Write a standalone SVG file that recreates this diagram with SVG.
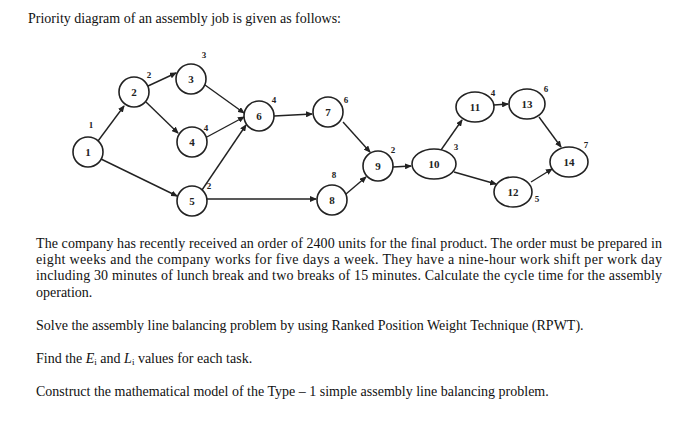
<svg xmlns="http://www.w3.org/2000/svg" width="700" height="439" viewBox="0 0 700 439">
<style>
.n{fill:#fff;stroke:#222;stroke-width:1.6}
.l{font-family:"Liberation Serif",serif;font-size:11px;font-weight:bold;fill:#222;text-anchor:middle}
.w{font-family:"Liberation Serif",serif;font-size:9px;font-weight:bold;fill:#222;text-anchor:middle}
.t{font-family:"Liberation Serif",serif;font-size:14px;fill:#111}
.c{stroke:#222;stroke-width:1.4;fill:none;marker-end:url(#a)}
</style>
<defs><marker id="a" markerWidth="7" markerHeight="6" refX="6" refY="3" orient="auto" markerUnits="userSpaceOnUse"><path d="M0,0L7,3L0,6z" fill="#222"/></marker></defs>
<rect width="700" height="439" fill="#fff"/>
<text class="t" x="28" y="23">Priority diagram of an assembly job is given as follows:</text>
<g id="connectors">
<line class="c" x1="98" y1="141" x2="124" y2="106"/>
<line class="c" x1="101" y1="159" x2="177" y2="196"/>
<line class="c" x1="148" y1="86" x2="176" y2="73"/>
<line class="c" x1="146" y1="102" x2="178" y2="133"/>
<line class="c" x1="205" y1="85" x2="244" y2="113"/>
<line class="c" x1="205" y1="138" x2="244" y2="117"/>
<line class="c" x1="202" y1="190" x2="246" y2="125"/>
<line class="c" x1="274" y1="116" x2="312" y2="114"/>
<line class="c" x1="207" y1="199" x2="316" y2="199"/>
<line class="c" x1="343" y1="122" x2="370" y2="152"/>
<line class="c" x1="346" y1="194" x2="366" y2="177"/>
<line class="c" x1="393" y1="167" x2="411" y2="166"/>
<line class="c" x1="441" y1="150" x2="462" y2="120"/>
<line class="c" x1="454" y1="172" x2="496" y2="184"/>
<line class="c" x1="494" y1="105" x2="508" y2="104"/>
<line class="c" x1="539" y1="117" x2="561" y2="147"/>
<line class="c" x1="531" y1="182" x2="552" y2="169"/>
</g>
<g id="n1"><circle class="n" cx="88" cy="152" r="15"/><text class="l" x="88" y="156">1</text><text class="w" x="91" y="128">1</text></g>
<g id="n2"><circle class="n" cx="134" cy="92" r="15"/><text class="l" x="134" y="96">2</text><text class="w" x="149" y="78">2</text></g>
<g id="n3"><circle class="n" cx="191" cy="79" r="15"/><text class="l" x="191" y="83">3</text><text class="w" x="204" y="58">3</text></g>
<g id="n4"><circle class="n" cx="192" cy="142" r="15"/><text class="l" x="192" y="146">4</text><text class="w" x="206" y="131">4</text></g>
<g id="n5"><circle class="n" cx="192" cy="201" r="15"/><text class="l" x="192" y="205">5</text><text class="w" x="209" y="189">2</text></g>
<g id="n6"><circle class="n" cx="259" cy="116" r="15"/><text class="l" x="259" y="120">6</text><text class="w" x="274" y="103">4</text></g>
<g id="n7"><circle class="n" cx="328" cy="112" r="15"/><text class="l" x="328" y="116">7</text><text class="w" x="346" y="103">6</text></g>
<g id="n8"><circle class="n" cx="332" cy="200" r="15"/><text class="l" x="332" y="204">8</text><text class="w" x="334" y="178">8</text></g>
<g id="n9"><circle class="n" cx="378" cy="166" r="15"/><text class="l" x="378" y="170">9</text><text class="w" x="393" y="153">2</text></g>
<g id="n10"><ellipse class="n" cx="434" cy="164" rx="22" ry="15"/><text class="l" x="434" y="168">10</text><text class="w" x="456" y="150">3</text></g>
<g id="n11"><ellipse class="n" cx="475" cy="107" rx="19" ry="15"/><text class="l" x="475" y="111">11</text><text class="w" x="493" y="96">4</text></g>
<g id="n13"><ellipse class="n" cx="527" cy="104" rx="18" ry="15"/><text class="l" x="527" y="108">13</text><text class="w" x="546" y="92">6</text></g>
<g id="n14"><ellipse class="n" cx="569" cy="162" rx="19" ry="15"/><text class="l" x="569" y="166">14</text><text class="w" x="586" y="148">7</text></g>
<g id="n12"><ellipse class="n" cx="513" cy="192" rx="19" ry="15"/><text class="l" x="513" y="196">12</text><text class="w" x="537" y="202">5</text></g>
<text class="t" x="36" y="248" textLength="626" lengthAdjust="spacing">The company has recently received an order of 2400 units for the final product. The order must be prepared in</text>
<text class="t" x="36" y="264" textLength="626" lengthAdjust="spacing">eight weeks and the company works for five days a week. They have a nine-hour work shift per work day</text>
<text class="t" x="36" y="280" textLength="626" lengthAdjust="spacing">including 30 minutes of lunch break and two breaks of 15 minutes. Calculate the cycle time for the assembly</text>
<text class="t" x="36" y="297">operation.</text>
<text class="t" x="36" y="330">Solve the assembly line balancing problem by using Ranked Position Weight Technique (RPWT).</text>
<text class="t" x="36" y="363">Find the <tspan font-style="italic">E</tspan><tspan font-size="9" dy="2">i</tspan><tspan dy="-2"> and </tspan><tspan font-style="italic">L</tspan><tspan font-size="9" dy="2">i</tspan><tspan dy="-2"> values for each task.</tspan></text>
<text class="t" x="36" y="396">Construct the mathematical model of the Type – 1 simple assembly line balancing problem.</text>
</svg>
